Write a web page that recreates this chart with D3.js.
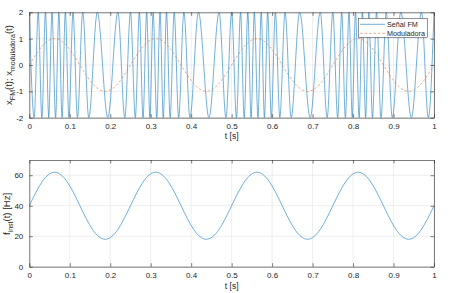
<!DOCTYPE html>
<html><head><meta charset="utf-8">
<script src="https://cdn.jsdelivr.net/npm/d3@7"></script>
<style>
body{margin:0;background:#fff;}
svg{display:block;font-family:"Liberation Sans",Arial,sans-serif;}
</style></head>
<body>
<svg id="c" width="450" height="293"></svg>
<script>
// ---- data ----
const xTicks = [0,0.1,0.2,0.3,0.4,0.5,0.6,0.7,0.8,0.9,1];
const xTickLabels = ["0","0.1","0.2","0.3","0.4","0.5","0.6","0.7","0.8","0.9","1"];
const yTicksTop = [-2,-1,0,1,2];
const yTicksBottom = [0,20,40,60];
const amplitudFM = 2;
// times of the FM signal crests (+2) and troughs (-2)
const tCrestas = [0,0.022,0.040,0.056,0.073,0.089,0.108,0.132,0.168,0.219,
  0.250,0.272,0.290,0.306,0.323,0.339,0.358,0.382,0.418,0.469,
  0.500,0.522,0.540,0.556,0.573,0.589,0.608,0.632,0.668,0.719,
  0.750,0.772,0.790,0.806,0.823,0.839,0.858,0.882,0.918,0.969,1.000];
const tValles = [0.012,0.031,0.048,0.065,0.081,0.098,0.119,0.147,0.194,0.236,
  0.262,0.281,0.298,0.315,0.331,0.348,0.369,0.397,0.444,0.486,
  0.512,0.531,0.548,0.565,0.581,0.598,0.619,0.647,0.694,0.736,
  0.762,0.781,0.798,0.815,0.831,0.848,0.869,0.897,0.944,0.986];
// sampled modulating signal and instantaneous frequency
const tMuestras = [0,0.03125,0.0625,0.09375,0.125,0.15625,0.1875,0.21875,
  0.25,0.28125,0.3125,0.34375,0.375,0.40625,0.4375,0.46875,
  0.5,0.53125,0.5625,0.59375,0.625,0.65625,0.6875,0.71875,
  0.75,0.78125,0.8125,0.84375,0.875,0.90625,0.9375,0.96875,1];
const moduladora = [0,0.707,1,0.707,0,-0.707,-1,-0.707,
  0,0.707,1,0.707,0,-0.707,-1,-0.707,
  0,0.707,1,0.707,0,-0.707,-1,-0.707,
  0,0.707,1,0.707,0,-0.707,-1,-0.707,0];
const fInst = [40,55.6,62,55.6,40,24.4,18,24.4,
  40,55.6,62,55.6,40,24.4,18,24.4,
  40,55.6,62,55.6,40,24.4,18,24.4,
  40,55.6,62,55.6,40,24.4,18,24.4,40];
const legendLabels = ["Señal FM","Moduladora"];

// ---- drawing ----
const svg = d3.select("#c");
const axisColor = "#262626", gridColor = "#e3e3e3";
const blue = "#0072BD", orange = "#E07A50";
const L = 29.3, R = 434;

function panel(y0, y1, ydom, yticks, id){
  const x = d3.scaleLinear().domain([0,1]).range([L,R]);
  const y = d3.scaleLinear().domain(ydom).range([y1,y0]);
  const g = svg.append("g");
  g.append("clipPath").attr("id",id).append("rect")
    .attr("x",L).attr("y",y0).attr("width",R-L).attr("height",y1-y0);
  g.append("g").selectAll("line").data(xTicks).join("line")
    .attr("x1",d=>x(d)).attr("x2",d=>x(d)).attr("y1",y0).attr("y2",y1)
    .attr("stroke",gridColor).attr("stroke-width",0.6);
  g.append("g").selectAll("line").data(yticks).join("line")
    .attr("y1",d=>y(d)).attr("y2",d=>y(d)).attr("x1",L).attr("x2",R)
    .attr("stroke",gridColor).attr("stroke-width",0.6);
  return {x,y,g,y0,y1};
}
function frame(p, yticks, ylabels){
  const {x,y,g,y0,y1} = p;
  const bx = d3.axisBottom(x).tickValues(xTicks).tickFormat((d,i)=>xTickLabels[i]).tickSizeInner(-3.5).tickSizeOuter(0).tickPadding(6);
  const tx = d3.axisTop(x).tickValues(xTicks).tickFormat("").tickSizeInner(-3.5).tickSizeOuter(0);
  const ly = d3.axisLeft(y).tickValues(yticks).tickFormat((d,i)=>ylabels[i]).tickSizeInner(-3.5).tickSizeOuter(0).tickPadding(6);
  const ry = d3.axisRight(y).tickValues(yticks).tickFormat("").tickSizeInner(-3.5).tickSizeOuter(0);
  [[bx,`translate(0,${y1})`],[tx,`translate(0,${y0})`],[ly,`translate(${L},0)`],[ry,`translate(${R},0)`]].forEach(([a,t])=>{
    const ag = g.append("g").attr("transform",t).call(a);
    ag.select(".domain").attr("stroke",axisColor).attr("stroke-width",0.6);
    ag.selectAll(".tick line").attr("stroke",axisColor).attr("stroke-width",0.6);
    ag.selectAll(".tick text").attr("fill",axisColor).attr("font-size","8px")
      .attr("font-family","'Liberation Sans',Arial,sans-serif");
  });
}

// Top panel
const p1 = panel(12.3,117.7,[-2,2],yTicksTop,"clip1");
const fm = tCrestas.map(t=>({t,v:amplitudFM})).concat(tValles.map(t=>({t,v:-amplitudFM})))
  .sort((a,b)=>a.t-b.t);
p1.g.append("path").datum(fm).attr("clip-path","url(#clip1)")
  .attr("fill","none").attr("stroke",blue).attr("stroke-width",0.7).attr("stroke-opacity",0.8)
  .attr("d",d3.line().x(d=>p1.x(d.t)).y(d=>p1.y(d.v)).curve(d3.curveMonotoneX));
const mod = tMuestras.map((t,i)=>({t,v:moduladora[i]}));
p1.g.append("path").datum(mod).attr("clip-path","url(#clip1)")
  .attr("fill","none").attr("stroke",orange).attr("stroke-width",0.9).attr("stroke-opacity",0.7)
  .attr("stroke-dasharray","2.5,2")
  .attr("d",d3.line().x(d=>p1.x(d.t)).y(d=>p1.y(d.v)).curve(d3.curveNatural));
frame(p1,yTicksTop,yTicksTop.map(String));

// Legend
const lg = svg.append("g");
lg.append("rect").attr("x",358.3).attr("y",18.3).attr("width",69.4).attr("height",19)
  .attr("fill","#fff").attr("stroke",axisColor).attr("stroke-width",0.5);
lg.append("line").attr("x1",360).attr("x2",385).attr("y1",24.3).attr("y2",24.3)
  .attr("stroke",blue).attr("stroke-width",0.7).attr("stroke-opacity",0.8);
lg.append("line").attr("x1",360).attr("x2",385).attr("y1",33.3).attr("y2",33.3)
  .attr("stroke",orange).attr("stroke-width",0.9).attr("stroke-opacity",0.7).attr("stroke-dasharray","2.5,2");
lg.selectAll("text").data(legendLabels).join("text")
  .attr("x",387).attr("y",(d,i)=>24.3+i*9).attr("dy","0.35em")
  .attr("font-size","7.2px").attr("fill",axisColor).text(d=>d);

// top labels
svg.append("text").attr("x",(L+R)/2).attr("y",136.5).attr("dy","0.35em").attr("text-anchor","middle")
  .attr("font-size","8.5px").attr("fill",axisColor).text("t [s]");
const yl1 = svg.append("text").attr("transform",`translate(12,${(12.3+117.7)/2}) rotate(-90)`)
  .attr("text-anchor","middle").attr("font-size","9.5px").attr("fill",axisColor);
yl1.append("tspan").text("x");
yl1.append("tspan").attr("font-size","7px").attr("dy","2.8").text("FM");
yl1.append("tspan").attr("dy","-2.8").text("(t);  x");
yl1.append("tspan").attr("font-size","7px").attr("dy","2.8").text("moduladora");
yl1.append("tspan").attr("dy","-2.8").text("(t)");

// Bottom panel
const p2 = panel(160,266.7,[0,70],yTicksBottom,"clip2");
const fi = tMuestras.map((t,i)=>({t,v:fInst[i]}));
p2.g.append("path").datum(fi).attr("clip-path","url(#clip2)")
  .attr("fill","none").attr("stroke",blue).attr("stroke-width",0.7).attr("stroke-opacity",0.8)
  .attr("d",d3.line().x(d=>p2.x(d.t)).y(d=>p2.y(d.v)).curve(d3.curveNatural));
frame(p2,yTicksBottom,yTicksBottom.map(String));
svg.append("text").attr("x",(L+R)/2).attr("y",285.7).attr("dy","0.35em").attr("text-anchor","middle")
  .attr("font-size","8.5px").attr("fill",axisColor).text("t [s]");
const yl2 = svg.append("text").attr("transform",`translate(10,214) rotate(-90)`)
  .attr("text-anchor","middle").attr("font-size","9.5px").attr("fill",axisColor);
yl2.append("tspan").text("f");
yl2.append("tspan").attr("font-size","7px").attr("dy","2.8").text("inst");
yl2.append("tspan").attr("dy","-2.8").text("(t) [Hz]");
</script>
</body></html>
